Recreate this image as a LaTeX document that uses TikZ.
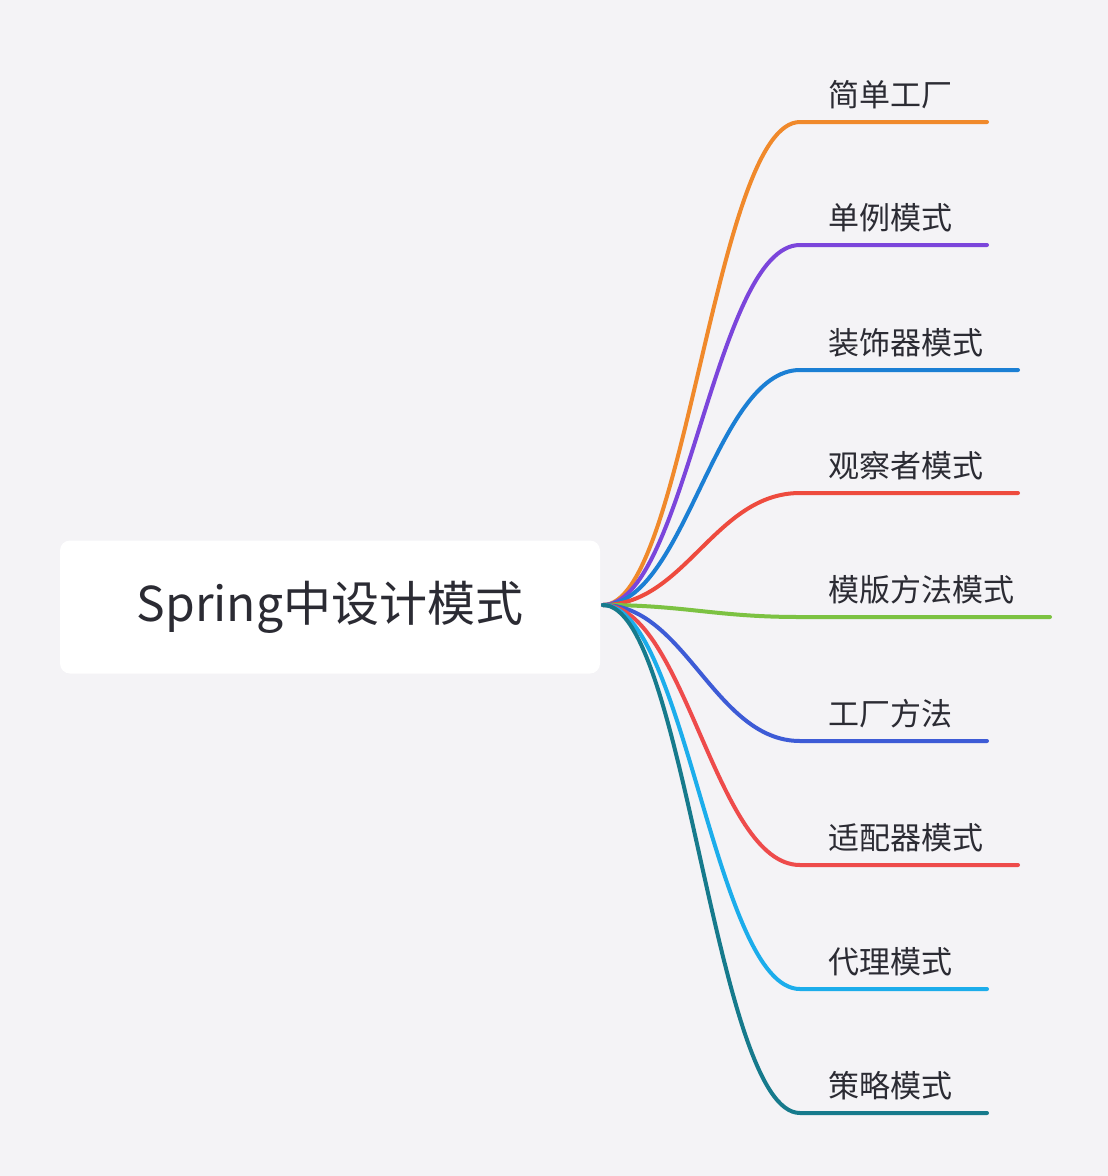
\documentclass[tikz,border=0pt]{standalone}
\usepackage{fontspec}
\setmainfont{Noto Sans CJK SC}
\definecolor{bg}{HTML}{F4F3F6}
\definecolor{c1}{HTML}{F0892B}
\definecolor{c2}{HTML}{7B45DB}
\definecolor{c3}{HTML}{1B7FD4}
\definecolor{c4}{HTML}{EE4B3E}
\definecolor{c5}{HTML}{7CC242}
\definecolor{c6}{HTML}{3D5BD6}
\definecolor{c7}{HTML}{EE4B4B}
\definecolor{c8}{HTML}{1CADEB}
\definecolor{c9}{HTML}{167A8C}
\definecolor{tx}{HTML}{2B2B33}
\begin{document}
\begin{tikzpicture}[x=1pt,y=-1pt,
  branch/.style={line width=4pt,line cap=round},
  lbl/.style={anchor=south west,inner sep=0pt,font=\fontsize{31}{33}\selectfont,text=tx}]
\fill[bg] (0,0) rectangle (1108,1176);
\useasboundingbox (0,0) rectangle (1108,1176);
\node[fill=white,rounded corners=10pt,minimum width=540pt,minimum height=133pt,
  font=\fontsize{48}{52}\selectfont,text=tx] (root) at (330,607) {Spring中设计模式};
\coordinate (o) at (603,605);
\foreach \i/\y/\e/\c/\t in {1/122/987/c1/简单工厂,2/245/987/c2/单例模式,3/370/1018/c3/装饰器模式,
  4/493/1018/c4/观察者模式,5/617/1050/c5/模版方法模式,6/741/987/c6/工厂方法,
  7/865/1018/c7/适配器模式,8/989/987/c8/代理模式,9/1113/987/c9/策略模式}{
  \coordinate (s\i) at (800,\y);
  \coordinate (e\i) at (\e,\y);
  \draw[branch,\c] (o) .. controls (685,605) and (715,\y) .. (s\i) -- (e\i);
  \node[lbl] (l\i) at (828,\y-13) {\t};
}
\end{tikzpicture}
\end{document}
